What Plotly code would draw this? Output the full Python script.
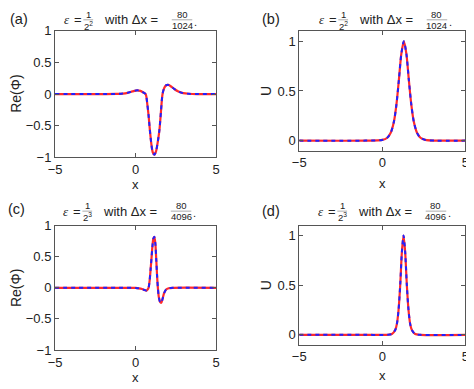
import plotly.graph_objects as go

W, H = 474, 389
OFF = 8  # the page body margin shifts the figure by this many pixels

# ---------------- data ----------------
x_a = [-5, -2, -1.2, -0.8, -0.5, -0.2, 0.09, 0.3, 0.45, 0.62, 0.72, 0.8, 0.88, 0.97, 1.06,
       1.16, 1.26, 1.36, 1.48, 1.57, 1.67, 1.78, 1.9, 2.03, 2.2, 2.4, 2.65, 2.95, 3.3, 3.8, 5]
re_phi_a = [0, 0, 0.002, 0.008, 0.02, 0.042, 0.06, 0.05, 0.03, 0.0, -0.15, -0.33, -0.56, -0.78, -0.92,
            -0.96, -0.91, -0.78, -0.56, -0.28, 0.0, 0.1, 0.14, 0.145, 0.12, 0.08, 0.04, 0.015, 0.005, 0.0, 0]

x_b = [-5, -1, 0.0, 0.3, 0.5, 0.7, 0.85, 1.0, 1.15, 1.3, 1.45, 1.6, 1.75, 1.9, 2.1, 2.3, 2.6, 3.2, 5]
u_b = [0, 0, 0.007, 0.029, 0.076, 0.19, 0.36, 0.61, 0.876, 1.0, 0.876, 0.61, 0.36, 0.19, 0.076, 0.029, 0.007, 0, 0]

x_c = [-5, -1, 0, 0.2, 0.4, 0.55, 0.65, 0.73, 0.8, 0.87, 0.93, 0.98, 1.04, 1.1, 1.16, 1.22, 1.28,
       1.33, 1.38, 1.44, 1.52, 1.59, 1.67, 1.76, 1.88, 2.05, 2.3, 5]
re_phi_c = [0, 0, -0.002, -0.008, -0.02, -0.035, -0.045, -0.03, 0.0, 0.12, 0.3, 0.46, 0.66, 0.79, 0.82, 0.72, 0.45,
            0.2, 0.0, -0.15, -0.23, -0.24, -0.18, -0.09, -0.03, -0.008, 0, 0]

x_d = [-5, -1, 0.3, 0.58, 0.78, 0.88, 0.98, 1.08, 1.18, 1.28, 1.38, 1.48, 1.58, 1.68, 1.78, 1.98, 2.3, 5]
u_d = [0, 0, 0, 0.008, 0.048, 0.11, 0.25, 0.5, 0.83, 1.0, 0.83, 0.5, 0.25, 0.11, 0.048, 0.008, 0, 0]

x_ticks = [-5, 0, 5]
re_ticks = [-1, -0.5, 0, 0.5, 1]
u_ticks = [0, 0.5, 1]

panel_labels = ["(a)", "(b)", "(c)", "(d)"]
eps_den = ["2<sup>2</sup>", "2<sup>2</sup>", "2<sup>3</sup>", "2<sup>3</sup>"]
dx_den = ["1024", "1024", "4096", "4096"]
y_titles = ["Re(Φ)", "U", "Re(Φ)", "U"]

# ---------------- layout helpers (pixel boxes in the screenshot) ----------------
boxes = [  # left, right, top, bottom in px
    (49, 214, 24.5, 156),
    (299, 469, 25, 149),
    (49, 214, 227, 356.5),
    (299, 469, 227, 351),
]
yranges = [[-1, 1], [-0.1, 1.1], [-1, 1], [-0.1, 1.1]]
yticks = [re_ticks, u_ticks, re_ticks, u_ticks]

def px(x):
    return (x - OFF) / W

def py(y):
    return 1 - (y - OFF) / H

fig = go.Figure()
series = [(x_a, re_phi_a), (x_b, u_b), (x_c, re_phi_c), (x_d, u_d)]
AX = "#555555"
SANS = "Liberation Sans, Arial, sans-serif"

for i, (xs, ys) in enumerate(series):
    sfx = "" if i == 0 else str(i + 1)
    fig.add_trace(go.Scatter(x=xs, y=ys, mode="lines", xaxis="x" + sfx, yaxis="y" + sfx,
                             line=dict(color="#ff2a2a", width=2.2, shape="spline", smoothing=0.8),
                             showlegend=False, hoverinfo="skip"))
    fig.add_trace(go.Scatter(x=xs, y=ys, mode="lines", xaxis="x" + sfx, yaxis="y" + sfx,
                             line=dict(color="#2020ff", width=2, dash="4px,4px", shape="spline", smoothing=0.8),
                             showlegend=False, hoverinfo="skip"))
    l, r, t, b = boxes[i]
    common = dict(showline=True, linecolor=AX, linewidth=1, mirror="ticks", ticks="inside",
                  ticklen=4, tickcolor=AX, showgrid=False, zeroline=False,
                  tickfont=dict(family=SANS, size=13, color="#222222"))
    fig.update_layout(**{
        "xaxis" + sfx: dict(domain=[px(l), px(r)], range=[-5, 5], tickvals=x_ticks,
                            anchor="y" + sfx, **common),
        "yaxis" + sfx: dict(domain=[py(b), py(t)], range=yranges[i], tickvals=yticks[i],
                            anchor="x" + sfx, **common),
    })

annotations = []
shapes = []

def txt(x, y, s, size=13, family=SANS, xanchor="center", angle=0):
    annotations.append(dict(x=px(x), y=py(y), xref="paper", yref="paper", text=s, showarrow=False,
                            xanchor=xanchor, yanchor="middle", textangle=angle,
                            font=dict(family=family, size=size, color="#222222")))

def frac(cx, cy, num, den, w):
    txt(cx, cy - 6, num, size=9.5)
    txt(cx, cy + 6, den, size=9.5)
    shapes.append(dict(type="line", xref="paper", yref="paper", x0=px(cx - w / 2), x1=px(cx + w / 2),
                       y0=py(cy), y1=py(cy), line=dict(color="#888888", width=0.7)))

title_pos = [(56, 13), (317, 13), (55, 212), (316, 212)]
label_pos = [(12, 12), (270, 12), (10, 210), (270, 212)]
ylab_pos = [(9, 90), (265, 87), (9, 292), (265, 289)]
xlab_pos = [(131.5, 184.5), (384, 183.5), (131.5, 385), (384, 383)]

for i in range(4):
    X, Y = title_pos[i]
    txt(X, Y, "<i>ε</i>", size=13, family="Liberation Serif, serif", xanchor="left")
    txt(X + 10, Y, "=", size=13, xanchor="left")
    frac(X + 27, Y, "1", eps_den[i], 10)
    txt(X + 41, Y, "with Δx =", size=13, xanchor="left")
    frac(X + 123, Y, "80", dx_den[i], 21)
    txt(X + 133, Y + 2, ".", size=11, xanchor="left")
    txt(label_pos[i][0], label_pos[i][1], panel_labels[i], size=14.5)
    txt(ylab_pos[i][0], ylab_pos[i][1], y_titles[i], size=14, angle=-90)
    txt(xlab_pos[i][0], xlab_pos[i][1], "x", size=13)

fig.update_layout(width=W, height=H, margin=dict(l=0, r=0, t=0, b=0),
                  paper_bgcolor="white", plot_bgcolor="white",
                  annotations=annotations, shapes=shapes)

fig.write_html("out.html")
